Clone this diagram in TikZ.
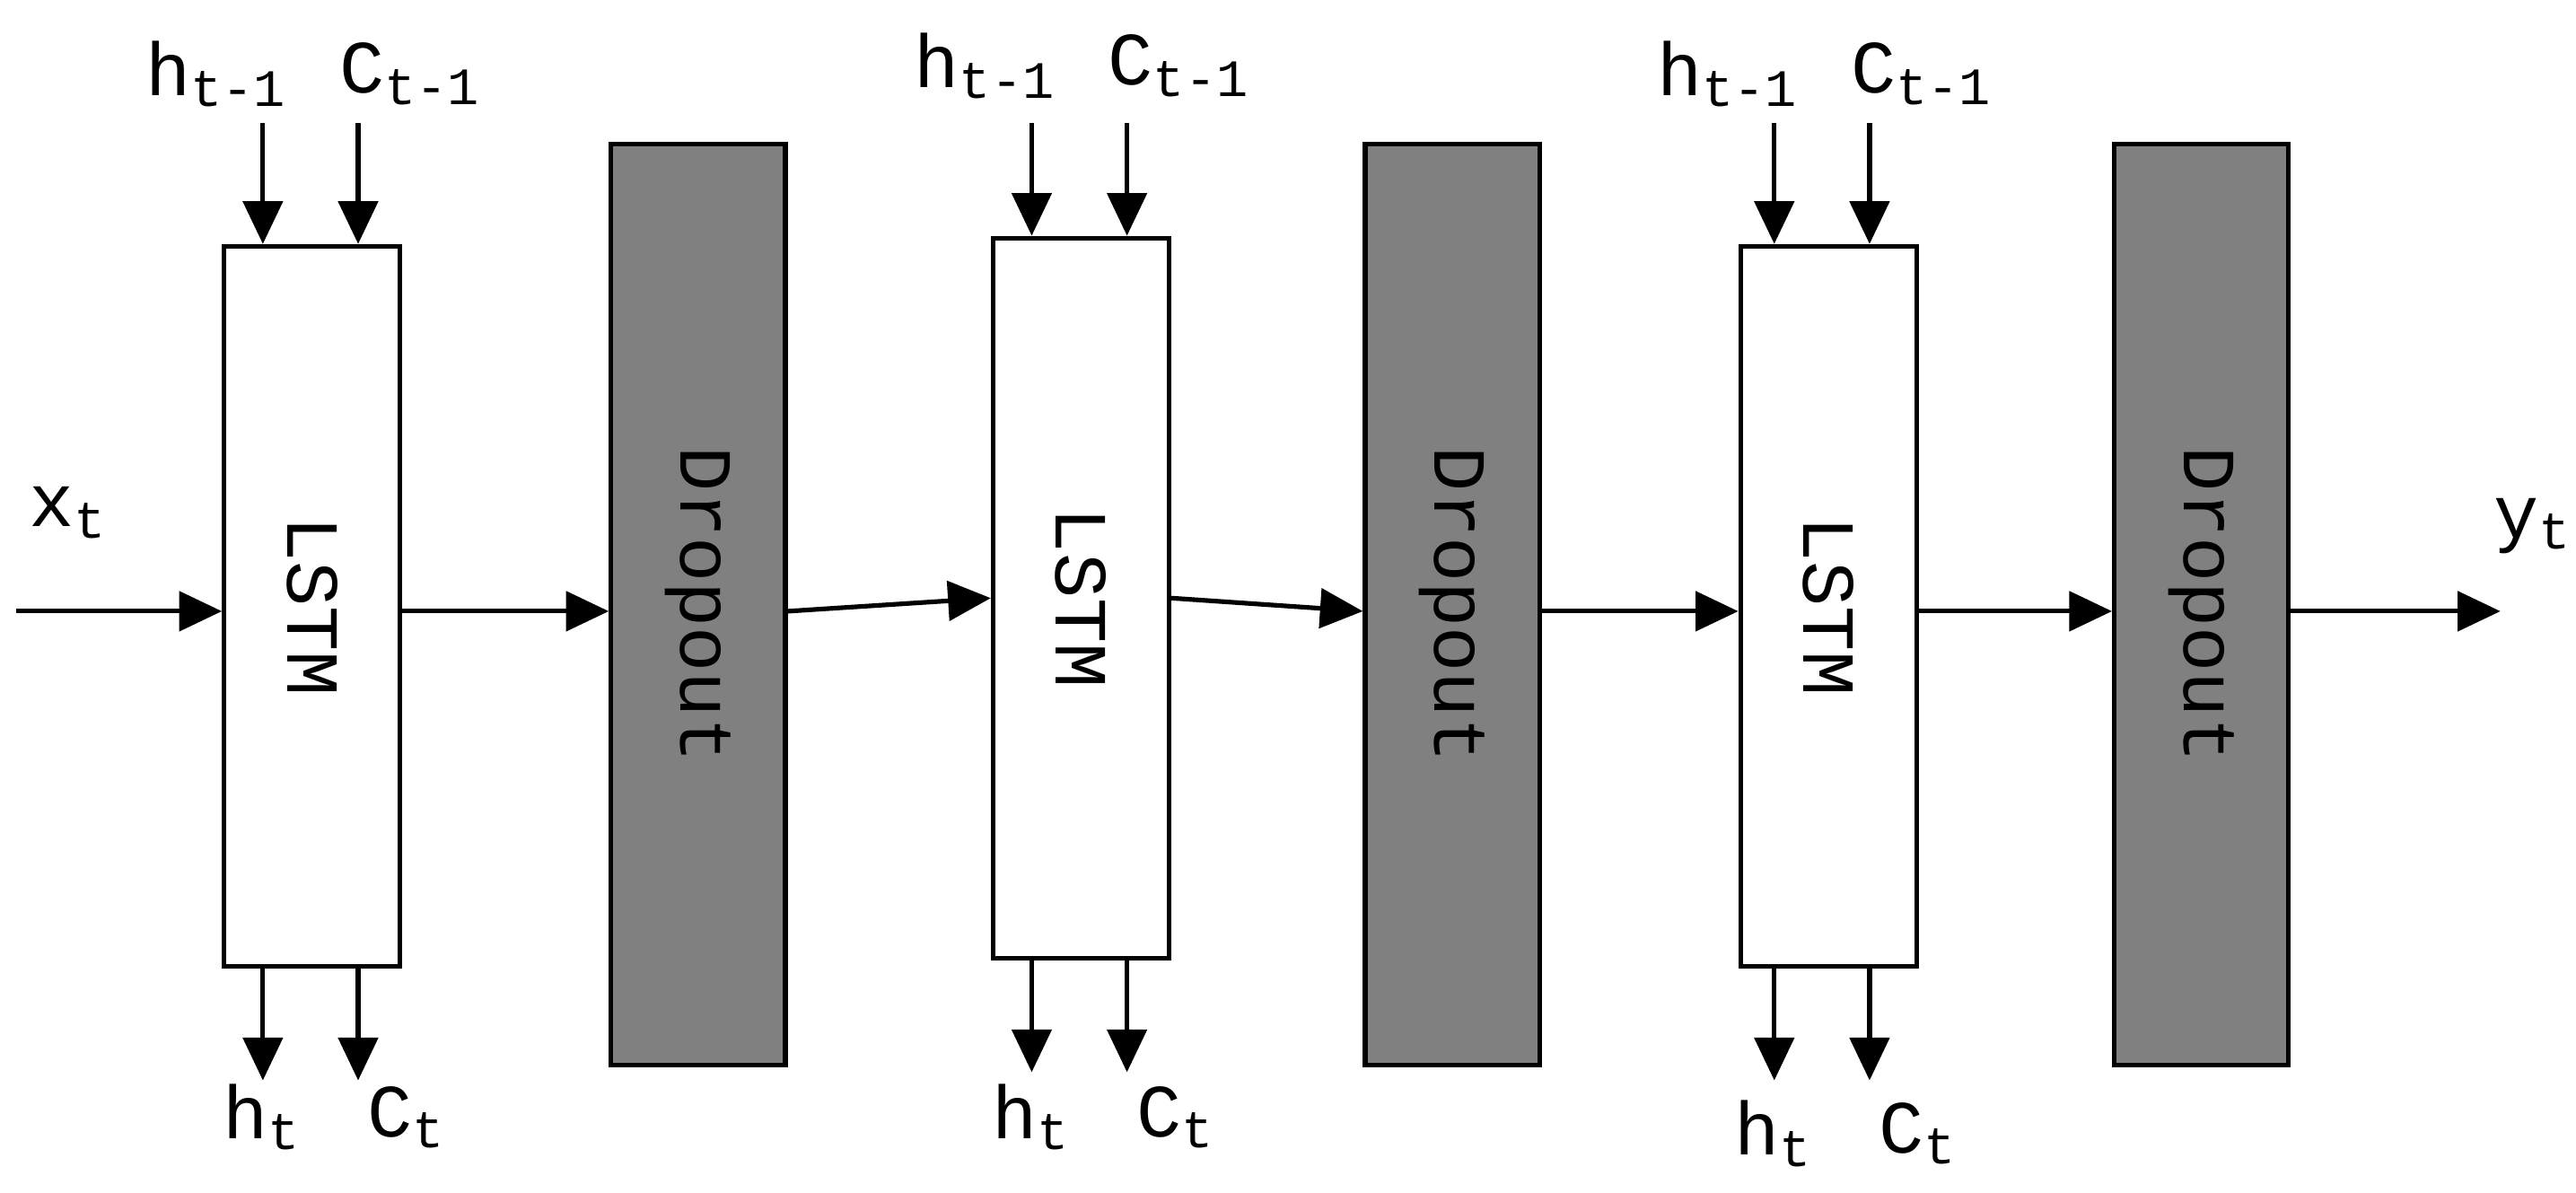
\documentclass[tikz,border=0pt]{standalone}
\usepackage{fontspec}
\setmainfont{Liberation Mono}
\usetikzlibrary{positioning,arrows.meta}

\begin{document}
\begin{tikzpicture}[x=0.01cm,y=-0.01cm,
    LSTM/.style={draw, thick, fill=white, minimum width=1.07cm, minimum height=4.38cm, inner sep=0pt},
    Drop/.style={draw, thick, fill=black!50, minimum width=1.06cm, minimum height=5.6cm, inner sep=0pt},
    flow/.style={-{Triangle[length=0.26cm,width=0.24cm]}, thick},
    lbl/.style={font=\fontsize{13}{15}\selectfont, inner sep=1pt},
    ]
	\useasboundingbox (0,0) rectangle (1568,726);

	\node[LSTM] (LSTMa) at (190,369) {};
	\node[Drop] (Dropa) at (425,368) {};
	\node[LSTM] (LSTMb) at (658,364) {};
	\node[Drop] (Dropb) at (884,368) {};
	\node[LSTM] (LSTMc) at (1113,369) {};
	\node[Drop] (Dropc) at (1340,368) {};

	\foreach \n in {LSTMa,LSTMb,LSTMc}
		\node[lbl, rotate=-90] at (\n) {LSTM};
	\foreach \n in {Dropa,Dropb,Dropc}
		\node[lbl, rotate=-90] at (\n) {Dropout};

	\coordinate (in) at (10,372);
	\coordinate (out) at (1522,372);
	\node[lbl] (xt) at (42,312) {x\textsubscript{t}};
	\node[lbl] (yt) at (1542,320) {y\textsubscript{t}};

	\draw[flow] (in) -- (LSTMa.west |- in);
	\draw[flow] (LSTMa.east |- in) -- (Dropa.west |- in);
	\draw[flow] (Dropa.east |- in) -- (LSTMb.west);
	\draw[flow] (LSTMb.east) -- (Dropb.west |- in);
	\draw[flow] (Dropb.east |- in) -- (LSTMc.west |- in);
	\draw[flow] (LSTMc.east |- in) -- (Dropc.west |- in);
	\draw[flow] (Dropc.east |- in) -- (out);

	% inputs and outputs of each cell
	\foreach \n/\a/\b/\top/\bot in {LSTMa/160/218/45/680, LSTMb/628/686/40/680, LSTMc/1080/1138/45/690}{
		\node[lbl] (\n h1) at (\a-28,\top) {h\textsubscript{t-1}};
		\node[lbl] (\n c1) at (\b+32,\top) {C\textsubscript{t-1}};
		\node[lbl] (\n h) at (\a,\bot) {h\textsubscript{t}};
		\node[lbl] (\n c) at (\b+30,\bot) {C\textsubscript{t}};
		\draw[flow] (\a,75) -- (\n.north -| \a,0);
		\draw[flow] (\b,75) -- (\n.north -| \b,0);
		\draw[flow] (\n.south -| \a,0) -- ++(0,68);
		\draw[flow] (\n.south -| \b,0) -- ++(0,68);
	}
\end{tikzpicture}
\end{document}
